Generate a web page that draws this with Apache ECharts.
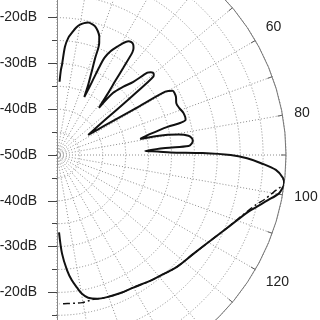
<!DOCTYPE html>
<html><head><meta charset="utf-8">
<script src="https://cdn.jsdelivr.net/npm/echarts@6/dist/echarts.min.js"></script>
<style>html,body{margin:0;padding:0;background:#fff}#c{width:320px;height:320px}</style>
</head><body><div id="c"></div>
<script>
// Angle in degrees (0 = up, clockwise), level in dB
const solidAngle = [2.0,2.6,3.2,4.2,5.5,7.0,8.5,10,11.6,13.2,15,16.5,18.2,19.6,20.6,21.5,22.4,24.0,25.2,
  25.5,25.6,25.7,26.0,27.3,29.1,30.6,32.1,33.4,34.6,35.6,36.3,37.2,38.2,39.7,41.6,
  42.1,44.2,46.2,47.7,48.5,49.3,50.2,50.9,51.3,52.2,53.6,57.2,
  58.4,59.0,59.4,59.7,60.9,62.5,64.0,66.5,69.0,71.6,73.5,74.7,75.4,75.7,77.3,79.1,
  79.5,80.5,81.7,83.0,84.1,85.2,86.1,86.3,87.4,
  88.0,88.7,89.2,90.0,91.0,92.3,93.9,95.8,97.2,98.5,99.8,102.1,105.9,109.5,113,119.1,125.8,133,139.4,143.3,150.1,155,160.6,164.4,167.7,169.8,171.4,173.3,175,177.1,178.5];
const solidDb = [-34,-31.5,-30.2,-26.3,-24.3,-23.1,-21.9,-21.1,-20.6,-20.3,-20.4,-20.7,-21.5,-22.5,-23.8,-27.3,-29.8,-33.3,-36,
  -33.8,-31.2,-28.6,-26.4,-24.5,-22.9,-21.6,-20.7,-20.5,-20.7,-21.3,-22.2,-26,-29.4,-32.8,-36.2,
  -31.7,-29.2,-26.9,-23.3,-22.7,-22.4,-22.5,-22.9,-24.7,-30.5,-36.4,-41.9,
  -37.7,-33.4,-28.9,-22.6,-21.1,-21.0,-21.1,-21.6,-21.4,-20.9,-20.8,-20.9,-22.1,-25.1,-29.1,-31.5,
  -25.9,-23,-21,-20.3,-20.2,-20.5,-21.2,-26.3,-30.7,
  -28,-25.2,-18.2,-12.1,-8.5,-5.4,-2.1,-0.4,0,-0.3,-0.8,-2.9,-6,-8,-9.5,-11.6,-13.2,-14.2,-15.3,-15.8,-16.6,-16.8,-17.1,-17.4,-18.1,-19.2,-20.7,-22.5,-24.7,-28.5,-33.1];
const dashAngle = [96,97.2,98.5,99.7,102,104,106,109.5,113,119.1,125.8,133,139.4,143.3,150.1,155,160.6,164.4,166.3,168,170.3,173,176,179];
const dashDb = [-0.3,0,-1.0,-2.0,-3.6,-5.2,-6.4,-8.1,-9.5,-11.6,-13.2,-14.2,-15.3,-15.8,-16.6,-16.8,-17.1,-17.4,-17.5,-17.4,-17.3,-17.4,-17.5,-17.5];
const angleLabelValues = [20,40,60,80,100,120,140,160];
const dbLabelValues = [-20,-30,-40,-50];

const chart = echarts.init(document.getElementById('c'), null, {renderer:'canvas'});
const CX = 57, CY = 155, R = 229;
const gridColor = '#8c8c8c';
const font = 'Liberation Sans, Arial, Helvetica, sans-serif';
chart.setOption({
  animation: false,
  backgroundColor: '#fff',
  polar: {center: [CX, CY], radius: R},
  angleAxis: {
    type: 'value', min: 0, max: 180, interval: 10,
    startAngle: 90, endAngle: -90, clockwise: true,
    axisLine: {show: true, lineStyle: {color: '#777', width: 1}},
    axisTick: {show: true, inside: true, length: 5, lineStyle: {color: '#555'}},
    axisLabel: {margin: 12, fontSize: 14, color: '#222', fontFamily: font,
      formatter: v => angleLabelValues.includes(v) ? String(v) : ''},
    splitLine: {show: true, lineStyle: {color: gridColor, type: [1, 2], width: 1}}
  },
  radiusAxis: {
    type: 'value', min: -50, max: 0, interval: 5,
    axisLine: {show: false}, axisTick: {show: false}, axisLabel: {show: false},
    splitLine: {show: true, lineStyle: {color: gridColor, type: [1, 2], width: 1}}
  },
  grid: {left: CX, top: CY - R, height: 2 * R, width: 100, show: false,
    containLabel: false, outerBoundsMode: 'none'},
  xAxis: {type: 'value', show: false, min: 0, max: 1},
  yAxis: {
    type: 'value', min: -50, max: 50, interval: 10, position: 'left',
    axisLine: {show: true, lineStyle: {color: '#888', width: 1}},
    axisTick: {show: true, length: 9, lineStyle: {color: '#444'}},
    minorTick: {show: true, splitNumber: 2, length: 5, lineStyle: {color: '#444'}},
    splitLine: {show: false},
    axisLabel: {margin: 20, fontSize: 14, color: '#222', fontFamily: font,
      formatter: v => { const db = -50 + Math.abs(v); return dbLabelValues.includes(db) ? db + 'dB' : ''; }}
  },
  series: [
    {type: 'line', coordinateSystem: 'polar', symbol: 'none', smooth: 0.3, z: 3,
     data: solidAngle.map((a, i) => [solidDb[i], a]),
     lineStyle: {color: '#111', width: 2}},
    {type: 'line', coordinateSystem: 'polar', symbol: 'none', smooth: 0.3, z: 2,
     data: dashAngle.map((a, i) => [dashDb[i], a]),
     lineStyle: {color: '#111', width: 1.5, type: [7, 3, 2, 3]}}
  ]
});
</script></body></html>
